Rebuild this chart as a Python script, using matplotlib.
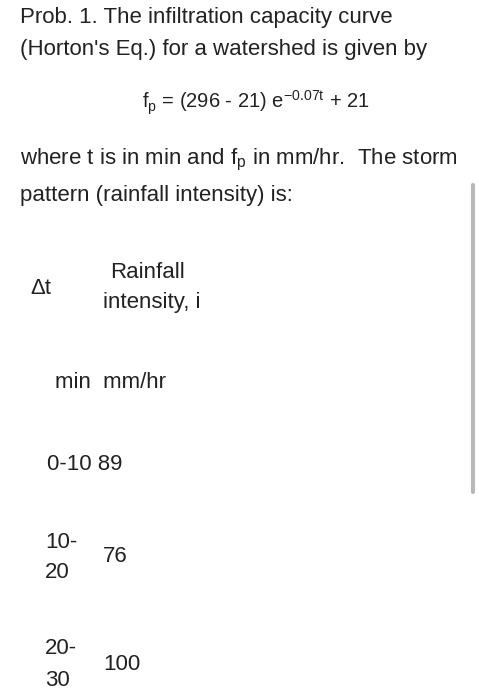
import matplotlib
matplotlib.use('Agg')
import matplotlib.pyplot as plt

plt.rcParams['font.family'] = ['Liberation Sans', 'DejaVu Sans']

W, H = 479, 700
intro = ["Prob. 1. The infiltration capacity curve",
         "(Horton's Eq.) for a watershed is given by"]
outro = ["where t is in min and f$_\\mathregular{p}$ in mm/hr.  The storm",
         "pattern (rainfall intensity) is:"]
intervals = [("0-10",), ("10-", "20"), ("20-", "30")]
intensity = ["89", "76", "100"]

fig = plt.figure(figsize=(W / 100, H / 100), dpi=100)
fig.patch.set_facecolor('white')
fs = 16
col = '#222222'

def put(x, y, s, size=fs, **kw):
    fig.text(x / W, 1 - y / H, s, fontsize=size, color=col, va='center', **kw)

put(20, 18, intro[0])
put(20, 50, intro[1])
put(142, 103, "f$_\\mathregular{p}$ = (296 - 21) e$^{\\mathregular{-0.07t}}$ + 21", size=14.5)
put(20, 160, outro[0])
put(20, 196, outro[1])

put(30, 288, "\u0394t")
put(110, 272, "Rainfall")
put(103, 302, "intensity, i")
put(55, 383, "min  mm/hr")

put(47, 464, intervals[0][0] + " " + intensity[0])
put(45, 542, intervals[1][0])
put(45, 573, intervals[1][1])
put(103, 557, intensity[1])
put(45, 648, intervals[2][0])
put(45, 680, intervals[2][1])
put(103, 665, intensity[2])

# scrollbar
fig.add_artist(plt.Line2D([473 / W, 473 / W], [1 - 185 / H, 1 - 492 / H],
                          color='#b8b8b8', lw=3, solid_capstyle='round'))

fig.savefig('out.png', dpi=100)
